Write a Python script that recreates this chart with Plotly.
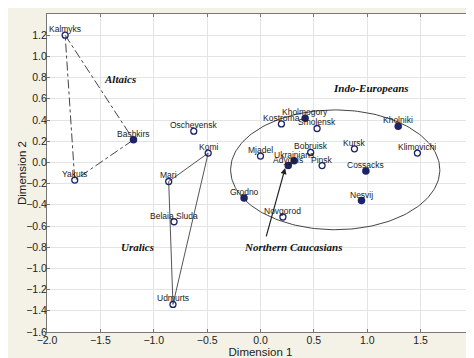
import plotly.graph_objects as go
import numpy as np

# Populations (open circles)
open_names = ["Kalmyks", "Yakuts", "Oschevensk", "Komi", "Mari", "Belaia Sluda", "Udmurts",
              "Kostroma", "Smolensk", "Mjadel", "Bobruisk", "Pinsk", "Kursk", "Klimovichi", "Novgorod"]
open_x = [-1.83, -1.74, -0.625, -0.49, -0.86, -0.81, -0.82,
          0.196, 0.53, 0.00, 0.47, 0.577, 0.88, 1.47, 0.21]
open_y = [1.20, -0.167, 0.295, 0.088, -0.18, -0.56, -1.34,
          0.363, 0.32, 0.06, 0.094, -0.03, 0.128, 0.088, -0.515]

# Populations (filled circles)
filled_names = ["Bashkirs", "Kholmogory", "Ukrainians", "Adygeis", "Cossacks", "Kholniki", "Grodno", "Nesvij"]
filled_x = [-1.19, 0.418, 0.315, 0.26, 0.987, 1.29, -0.154, 0.946]
filled_y = [0.213, 0.417, 0.015, -0.03, -0.08, 0.34, -0.336, -0.36]

# Group outlines
altaic_x = [-1.83, -1.19, -1.74, -1.83]
altaic_y = [1.20, 0.213, -0.167, 1.20]
uralic_x = [-0.49, -0.86, -0.82, -0.49]
uralic_y = [0.088, -0.18, -1.34, 0.088]

# Indo-European ellipse: center and semi-axes
ell_center = [0.70, -0.07]
ell_axes = [0.98, 0.565]

# Group labels
group_text = ["Altaics", "Uralics", "Indo-Europeans", "Northern Caucasians"]
group_x = [-1.32, -1.154, 1.034, 0.305]
group_y = [0.784, -0.80, 0.70, -0.80]

# Arrow (tail -> head)
arrow_tail = [0.05, -0.712]
arrow_head = [0.231, -0.054]

navy = "#1c2368"
fig = go.Figure()

fig.add_trace(go.Scatter(x=altaic_x, y=altaic_y, mode="lines",
                         line=dict(color="#444444", width=1, dash="dashdot"),
                         hoverinfo="skip", showlegend=False))
fig.add_trace(go.Scatter(x=uralic_x, y=uralic_y, mode="lines",
                         line=dict(color="#555555", width=1),
                         hoverinfo="skip", showlegend=False))

t = np.linspace(0, 2 * np.pi, 200)
fig.add_trace(go.Scatter(x=ell_center[0] + ell_axes[0] * np.cos(t),
                         y=ell_center[1] + ell_axes[1] * np.sin(t),
                         mode="lines", line=dict(color="#444444", width=1),
                         hoverinfo="skip", showlegend=False))

fig.add_trace(go.Scatter(x=open_x, y=open_y, mode="markers", text=open_names,
                         marker=dict(symbol="circle-open", size=6, color=navy, line=dict(width=1.3)),
                         showlegend=False))
fig.add_trace(go.Scatter(x=filled_x, y=filled_y, mode="markers", text=filled_names,
                         marker=dict(symbol="circle", size=7.5, color=navy, line=dict(width=0)),
                         showlegend=False))

annotations = []
for n, x, y in list(zip(open_names, open_x, open_y)) + list(zip(filled_names, filled_x, filled_y)):
    annotations.append(dict(x=x, y=y, xref="x", yref="y", text=n, showarrow=False,
                            yshift=6, font=dict(family="Liberation Sans, Arial", size=8.5, color="#1a1a1a")))
for s, x, y in zip(group_text, group_x, group_y):
    annotations.append(dict(x=x, y=y, xref="x", yref="y", text="<b><i>" + s + "</i></b>",
                            showarrow=False,
                            font=dict(family="Liberation Serif, Times New Roman", size=11, color="#111111")))
annotations.append(dict(x=arrow_head[0], y=arrow_head[1], ax=arrow_tail[0], ay=arrow_tail[1],
                        xref="x", yref="y", axref="x", ayref="y", text="", showarrow=True,
                        arrowhead=2, arrowsize=1, arrowwidth=1.2, arrowcolor="#222222"))
# y-axis title placed close to the edge as in the reference
annotations.append(dict(x=0, y=0.5, xref="paper", yref="paper", xshift=-33, text="Dimension 2",
                        textangle=-90, showarrow=False,
                        font=dict(family="Liberation Sans, Arial", size=11.5, color="#222222")))

axis_common = dict(showgrid=True, gridcolor="#e4e4e4", gridwidth=1, zeroline=False,
                   showline=True, linecolor="#777777", linewidth=1, mirror="ticks",
                   ticks="inside", ticklen=3, tickcolor="#777777",
                   tickfont=dict(family="Liberation Sans, Arial", size=10.5, color="#222222"),
                   automargin=False)

fig.update_layout(
    width=474, height=358,
    margin=dict(l=39, r=8, t=6, b=34),
    paper_bgcolor="#f4f2e6", plot_bgcolor="#ffffff",
    annotations=annotations,
    xaxis=dict(range=[-2, 2], dtick=0.5, tickformat=".1f", ticklabelstandoff=-2,
               title=dict(text="Dimension 1", standoff=0,
                          font=dict(family="Liberation Sans, Arial", size=11.5, color="#222222")),
               **axis_common),
    yaxis=dict(range=[-1.6, 1.4], dtick=0.2, tickformat=".1f", ticklabelstandoff=-3,
               **axis_common),
    hovermode="closest",
)

fig.write_html("out.html")
